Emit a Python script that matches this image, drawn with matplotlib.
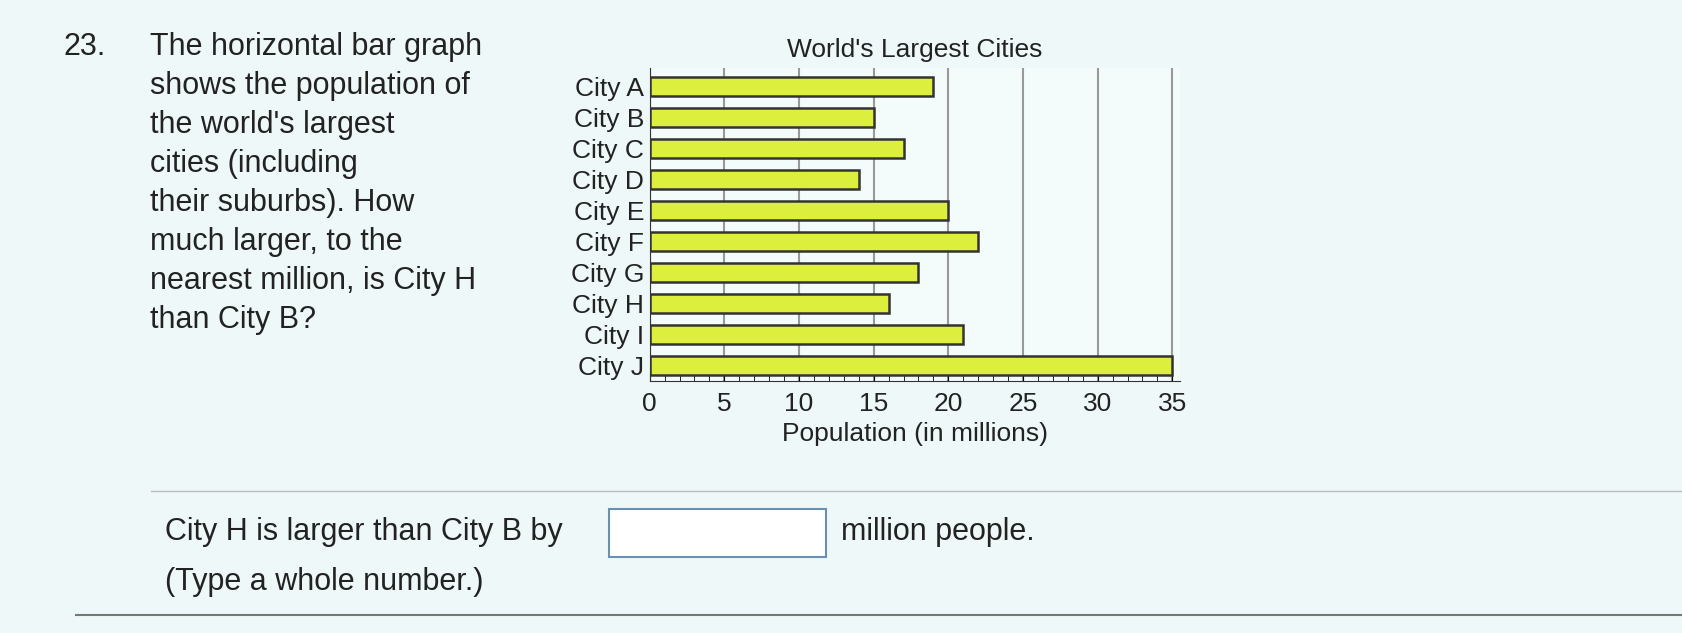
import matplotlib
matplotlib.use("Agg")
import matplotlib.pyplot as plt
from matplotlib.patches import Rectangle
from matplotlib.ticker import MultipleLocator

plt.rcParams['font.family'] = ['Liberation Sans', 'DejaVu Sans']

cities = ["City A","City B","City C","City D","City E","City F","City G","City H","City I","City J"]
population = [19, 15, 17, 14, 20, 22, 18, 16, 21, 35]
xticks = [0, 5, 10, 15, 20, 25, 30, 35]

fig = plt.figure(figsize=(16.83, 6.33), dpi=100)
fig.patch.set_facecolor("#eef8f8")

ax = fig.add_axes([0.386, 0.398, 0.315, 0.495])
ax.set_facecolor("#f4fbfb")
y = list(range(len(cities)))
ax.barh(y, population, height=0.6, color="#dcef3c", edgecolor="#333333", linewidth=1.8, zorder=3)
ax.set_yticks(y)
ax.set_yticklabels(cities, fontsize=19, color="#222222")
ax.invert_yaxis()
ax.set_ylim(9.5, -0.6)
ax.set_xlim(0, 35.5)
ax.set_xticks(xticks)
ax.set_xticklabels([str(v) for v in xticks], fontsize=19, color="#222222")
ax.xaxis.set_minor_locator(MultipleLocator(1))
ax.tick_params(axis="y", length=0, pad=4)
ax.tick_params(axis="x", which="both", direction="in", length=6, pad=8)
ax.grid(axis="x", color="#999999", linewidth=1.5, zorder=0)
for s in ["top", "right"]:
    ax.spines[s].set_visible(False)
ax.spines["left"].set_color("#333333")
ax.spines["bottom"].set_color("#333333")
ax.set_title("World's Largest Cities", fontsize=19, color="#222222", pad=8)
ax.set_xlabel("Population (in millions)", fontsize=19, color="#222222", labelpad=4)

fig.text(0.038, 0.925, "23.", fontsize=22, color="#222222", va="center")
qlines = ["The horizontal bar graph", "shows the population of", "the world's largest",
          "cities (including", "their suburbs). How", "much larger, to the",
          "nearest million, is City H", "than City B?"]
for i, line in enumerate(qlines):
    fig.text(0.089, 0.925 - i * 0.0615, line, fontsize=22, color="#222222", va="center")

fig.text(0.098, 0.16, "City H is larger than City B by", fontsize=22, color="#222222", va="center")
fig.add_artist(Rectangle((0.362, 0.12), 0.129, 0.076, transform=fig.transFigure,
                         facecolor="white", edgecolor="#6a8fb0", linewidth=1.5))
fig.text(0.500, 0.16, "million people.", fontsize=22, color="#222222", va="center")
fig.text(0.098, 0.08, "(Type a whole number.)", fontsize=22, color="#222222", va="center")
fig.add_artist(plt.Line2D([0.09, 1.0], [0.224, 0.224], transform=fig.transFigure, color="#bbbbbb", linewidth=1))
fig.add_artist(plt.Line2D([0.045, 1.0], [0.029, 0.029], transform=fig.transFigure, color="#777777", linewidth=1.5))

fig.savefig("out.png", dpi=100, facecolor=fig.get_facecolor())
